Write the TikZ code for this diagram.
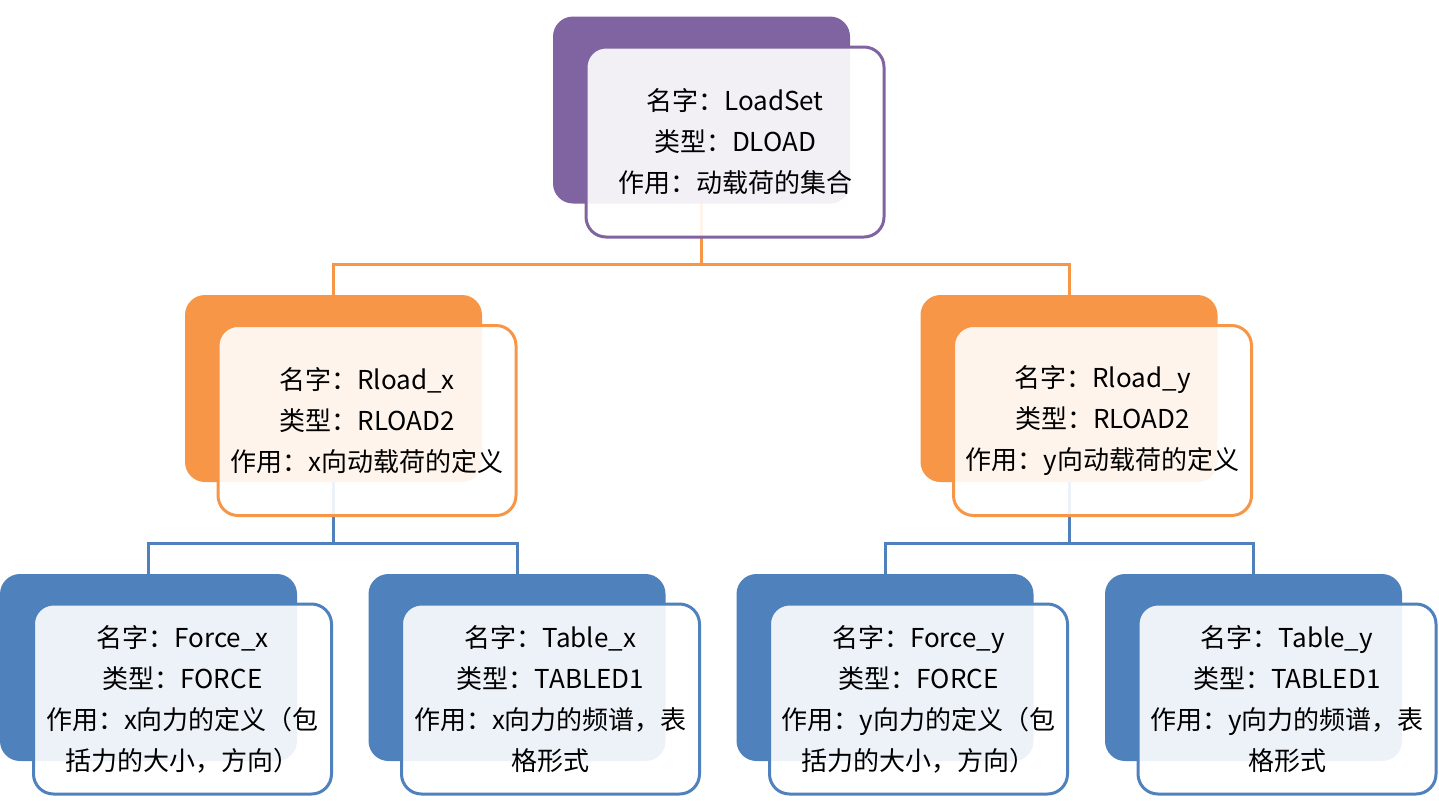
\documentclass[tikz,border=0pt]{standalone}
\usepackage{fontspec}
\setmainfont{Noto Sans CJK SC}
\usetikzlibrary{backgrounds}
\definecolor{cpur}{HTML}{8064A2}
\definecolor{cora}{HTML}{F79646}
\definecolor{cblu}{HTML}{4F81BD}
\begin{document}
\begin{tikzpicture}[x=1pt,y=-1pt,
  backbox/.style={rounded corners=20pt, fill=#1, minimum width=297pt, minimum height=187pt, inner sep=0pt, outer sep=0pt},
  frontbox/.style={rounded corners=20pt, draw=#1, line width=3pt, fill=white, fill opacity=0.9, text opacity=1,
    minimum width=298pt, minimum height=190pt, align=center, inner sep=0pt, outer sep=0pt,
    font=\fontsize{26pt}{41pt}\selectfont},
  conn/.style={draw=#1, line width=3pt}]
\useasboundingbox (0,0) rectangle (1439,809);
% top
\node[backbox=cpur] (topb) at (701.5,110) {};
\node[frontbox=cpur] (topf) at (735,142) {名字：LoadSet\\类型：DLOAD\\作用：动载荷的集合};
% level 2
\node[backbox=cora] (lb) at (333.5,388.5) {};
\node[frontbox=cora] (lf) at (367,420.5) {名字：Rload\_x\\类型：RLOAD2\\作用：x向动载荷的定义};
\node[backbox=cora] (rb) at (1069,388.5) {};
\node[frontbox=cora] (rf) at (1102.5,420.5) {名字：Rload\_y\\类型：RLOAD2\\作用：y向动载荷的定义};
% level 3
\node[backbox=cblu] (fxb) at (148.5,667.5) {};
\node[frontbox=cblu] (fxf) at (182.5,699) {名字：Force\_x\\类型：FORCE\\作用：x向力的定义（包\\括力的大小，方向）};
\node[backbox=cblu] (txb) at (517,667.5) {};
\node[frontbox=cblu] (txf) at (550.5,699) {名字：Table\_x\\类型：TABLED1\\作用：x向力的频谱，表\\格形式};
\node[backbox=cblu] (fyb) at (885,667.5) {};
\node[frontbox=cblu] (fyf) at (918.5,699) {名字：Force\_y\\类型：FORCE\\作用：y向力的定义（包\\括力的大小，方向）};
\node[backbox=cblu] (tyb) at (1253.5,667.5) {};
\node[frontbox=cblu] (tyf) at (1287,699) {名字：Table\_y\\类型：TABLED1\\作用：y向力的频谱，表\\格形式};
% connectors
\begin{pgfonlayer}{background}
\draw[conn=cora] (topb.center) -- (topb.center |- 0,264) -| (lb.north);
\draw[conn=cora] (topb.center |- 0,264) -| (rb.north);
\draw[conn=cblu] (lb.center) -- (lb.center |- 0,543) -| (fxb.north);
\draw[conn=cblu] (lb.center |- 0,543) -| (txb.north);
\draw[conn=cblu] (rb.center) -- (rb.center |- 0,543) -| (fyb.north);
\draw[conn=cblu] (rb.center |- 0,543) -| (tyb.north);
\end{pgfonlayer}
\end{tikzpicture}
\end{document}
